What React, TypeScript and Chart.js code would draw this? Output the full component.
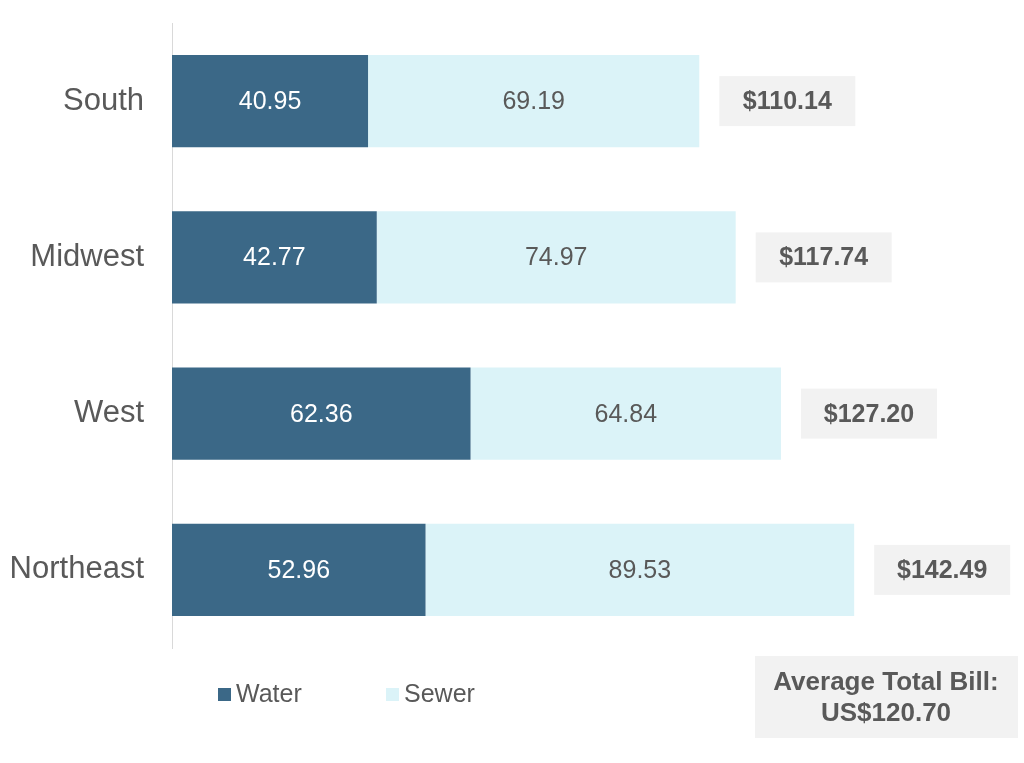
import { useEffect, useRef } from "react";
import { Chart, registerables } from "chart.js";

Chart.register(...registerables);

const regions = ["South", "Midwest", "West", "Northeast"];
const water = [40.95, 42.77, 62.36, 52.96];
const sewer = [69.19, 74.97, 64.84, 89.53];
const averageBill = "US$120.70";

const WATER_COLOR = "#3b6887";
const SEWER_COLOR = "#dbf3f8";
const TEXT_COLOR = "#595959";
const BOX_COLOR = "#f2f2f2";
const FONT = "'Liberation Sans', Arial, sans-serif";

// segment values in the middle of each bar piece
const segmentLabels = {
  id: "segmentLabels",
  afterDatasetsDraw(chart: any) {
    const { ctx } = chart;
    ctx.save();
    ctx.font = `25px ${FONT}`;
    ctx.textAlign = "center";
    ctx.textBaseline = "middle";
    chart.data.datasets.forEach((ds: any, di: number) => {
      const meta = chart.getDatasetMeta(di);
      ctx.fillStyle = di === 0 ? "#ffffff" : TEXT_COLOR;
      meta.data.forEach((bar: any, i: number) => {
        const cx = (bar.x + bar.base) / 2;
        ctx.fillText(ds.data[i].toFixed(2), cx, bar.y + 1);
      });
    });
    ctx.restore();
  },
};

// grey total boxes, legend and the average box
const extras = {
  id: "extras",
  afterDraw(chart: any) {
    const { ctx } = chart;
    const xScale = chart.scales.x;
    const meta = chart.getDatasetMeta(1);
    ctx.save();
    ctx.textAlign = "center";
    ctx.textBaseline = "middle";

    regions.forEach((_, i) => {
      const total = water[i] + sewer[i];
      const left = xScale.getPixelForValue(total) + 20;
      const y = meta.data[i].y;
      ctx.fillStyle = BOX_COLOR;
      ctx.fillRect(left, y - 25, 136, 50);
      ctx.fillStyle = TEXT_COLOR;
      ctx.font = `bold 25px ${FONT}`;
      ctx.fillText("$" + total.toFixed(2), left + 68, y + 1);
    });

    // legend
    ctx.textAlign = "left";
    ctx.font = `25px ${FONT}`;
    chart.data.datasets.forEach((ds: any, di: number) => {
      const x = 218 + di * 168;
      ctx.fillStyle = ds.backgroundColor;
      ctx.fillRect(x, 688, 13, 13);
      ctx.fillStyle = TEXT_COLOR;
      ctx.fillText(ds.label, x + 18, 695);
    });

    // average box
    ctx.fillStyle = BOX_COLOR;
    ctx.fillRect(755, 656, 263, 82);
    ctx.fillStyle = TEXT_COLOR;
    ctx.textAlign = "center";
    ctx.font = `bold 26px ${FONT}`;
    ctx.fillText("Average Total Bill:", 886, 683);
    ctx.fillText(averageBill, 886, 714);
    ctx.restore();
  },
};

export default function App() {
  const canvasRef = useRef<HTMLCanvasElement>(null);
  const chartRef = useRef<Chart | null>(null);

  useEffect(() => {
    if (!canvasRef.current) return;
    const context = canvasRef.current.getContext("2d");
    if (!context) return;

    chartRef.current?.destroy();
    chartRef.current = new Chart(context, {
      type: "bar",
      data: {
        labels: regions,
        datasets: [
          { label: "Water", data: water, backgroundColor: WATER_COLOR },
          { label: "Sewer", data: sewer, backgroundColor: SEWER_COLOR },
        ],
      },
      options: {
        indexAxis: "y",
        responsive: false,
        animation: false,
        devicePixelRatio: 1,
        layout: { padding: { top: 23, bottom: 115, right: 86, left: 0 } },
        datasets: { bar: { barPercentage: 0.59, categoryPercentage: 1 } },
        plugins: {
          legend: { display: false },
          tooltip: { enabled: false },
        },
        scales: {
          x: { stacked: true, min: 0, max: 160, display: false },
          y: {
            stacked: true,
            grid: { display: false, drawTicks: false },
            border: { display: true, color: "#d9d9d9", width: 1 },
            ticks: {
              color: TEXT_COLOR,
              font: { family: FONT, size: 31 },
              padding: 28,
            },
            afterFit: (scale: any) => {
              scale.width = 172;
              scale.paddingTop = 0;
              scale.paddingBottom = 0;
            },
          },
        },
      },
      plugins: [segmentLabels, extras],
    });

    return () => {
      chartRef.current?.destroy();
      chartRef.current = null;
    };
  }, []);

  return (
    <div style={{ position: "absolute", left: 0, top: 0, width: 1024, height: 763, background: "#fff" }}>
      <canvas ref={canvasRef} width={1024} height={763} />
    </div>
  );
}
